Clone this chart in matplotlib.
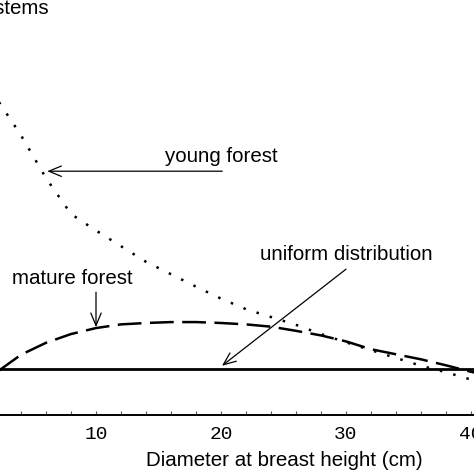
import matplotlib
matplotlib.use("Agg")
import matplotlib.pyplot as plt

# diameter classes (cm)
dbh = [2, 4, 6, 8, 10, 12, 14, 16, 18, 20, 22, 24, 26, 28, 30, 32, 34, 36, 38, 40, 42]

# relative number of stems per class
young = [6.90, 6.08, 5.15, 4.37, 4.01, 3.67, 3.33, 3.06, 2.79, 2.53, 2.30,
         2.13, 1.96, 1.76, 1.58, 1.41, 1.24, 1.07, 0.93, 0.77, 0.65]
mature = [0.92, 1.31, 1.57, 1.76, 1.89, 1.97, 2.00, 2.02, 2.02, 2.00, 1.97,
          1.92, 1.83, 1.73, 1.60, 1.43, 1.32, 1.21, 1.08, 0.94, 0.82]
uniform = [1.0] * len(dbh)

major_ticks = [10, 20, 30, 40]
minor_ticks = list(range(2, 43, 2))

W, H = 474, 474
fig = plt.figure(figsize=(W / 100, H / 100), dpi=100)

# axes placed so the visible part matches the cropped reference
px_per_x = 12.5
px_per_y = 46.0
x0_px = -29
y0_px = H - 415
xmax, ymax = 42, 9
ax = fig.add_axes([x0_px / W, y0_px / H, xmax * px_per_x / W, ymax * px_per_y / H])

ax.plot(dbh, young, color="black", lw=1.8, linestyle=(0, (1, 4.5)))
ax.plot(dbh, mature, color="black", lw=1.8, linestyle=(0, (9.5, 3.4)))
ax.plot(dbh, uniform, color="black", lw=2.0)

ax.set_xlim(0, xmax)
ax.set_ylim(0, ymax)

for side in ["left", "top", "right"]:
    ax.spines[side].set_visible(False)
ax.spines["bottom"].set_linewidth(1.4)

ax.set_yticks([])
ax.set_xticks(major_ticks)
ax.set_xticks(minor_ticks, minor=True)
ax.tick_params(axis="x", which="both", direction="in", length=3, width=0.8, color="#555555")
ax.tick_params(axis="x", which="major", pad=8)
for lab in ax.get_xticklabels():
    lab.set_fontfamily("Liberation Mono")
    lab.set_fontsize(14)

sans = "Liberation Sans"
fs = 14.8

ax.text(25.04, -0.98, "Diameter at breast height (cm)", ha="center", va="center",
        fontsize=fs, family=sans, clip_on=False)
fig.text(49 / W, 1 - 9 / H, "Number of stems", ha="right", va="center",
         fontsize=fs, family=sans)

arrow = dict(arrowstyle="->, head_length=0.6, head_width=0.25", lw=0.9,
             color="black", mutation_scale=15, shrinkA=0, shrinkB=0)

ax.text(20.04, 5.61, "young forest", ha="center", va="center", fontsize=fs, family=sans)
ax.annotate("", xy=(6.1, 5.30), xytext=(20.1, 5.30), arrowprops=arrow)

ax.text(8.08, 2.96, "mature forest", ha="center", va="center", fontsize=fs, family=sans)
ax.annotate("", xy=(10.0, 1.91), xytext=(10.0, 2.67), arrowprops=arrow)

ax.text(30.04, 3.50, "uniform distribution", ha="center", va="center", fontsize=fs, family=sans)
ax.annotate("", xy=(20.08, 1.07), xytext=(30.0, 3.17), arrowprops=arrow)

fig.savefig("out.png", dpi=100)
